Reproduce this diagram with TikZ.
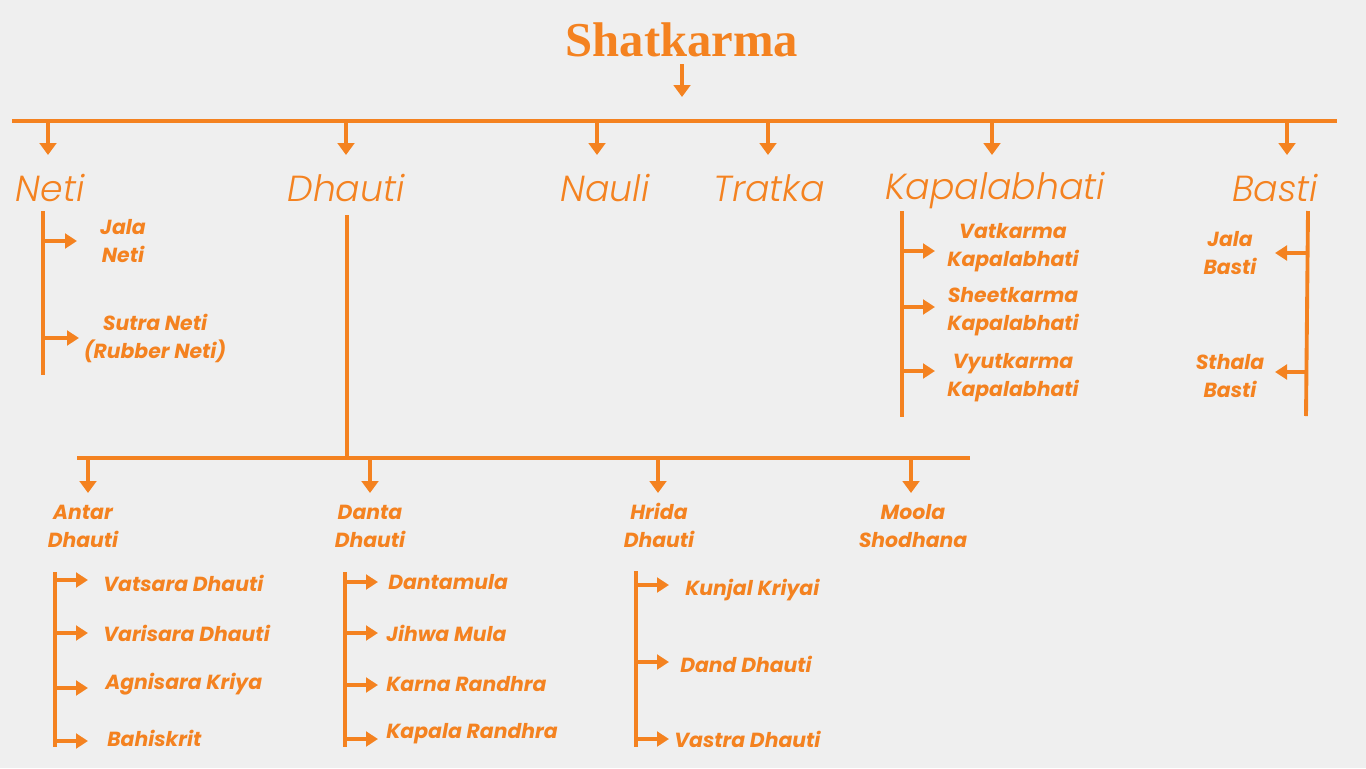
\documentclass[tikz,border=0pt]{standalone}
\usepackage{fontspec}
\setmainfont{Poppins}
\newfontfamily\titlefont{Liberation Serif}
\newfontfamily\lightfont{Poppins Light Italic}
\usetikzlibrary{arrows.meta}
\definecolor{org}{RGB}{244,130,32}
\definecolor{paper}{RGB}{239,239,239}
\begin{document}
\begin{tikzpicture}[x=0.75pt,y=-0.75pt,
  ln/.style={draw=org,line width=2.9pt},
  bus/.style={draw=org,line width=3.1pt},
  arr/.style={draw=org,line width=2.9pt,-{Triangle[length=9pt,width=12.5pt]}},
  sarr/.style={draw=org,line width=2.9pt,-{Triangle[length=9pt,width=11pt]}},
  ttl/.style={text=org,font=\titlefont\bfseries\fontsize{36.5}{40}\selectfont,inner sep=0pt},
  lone/.style={text=org,font=\lightfont\fontsize{27.2}{34}\selectfont,inner sep=0pt},
  ltwo/.style={text=org,font=\bfseries\itshape\fontsize{15.3}{21}\selectfont,inner sep=0pt,align=center},
  lsub/.style={text=org,font=\bfseries\itshape\fontsize{15.3}{21}\selectfont,inner sep=0pt,anchor=west},
]
\fill[paper] (0,0) rectangle (1366,768);
\useasboundingbox (0,0) rectangle (1366,768);

% root
\node[ttl] (root) at (682,40) {Shatkarma};
\coordinate (rb) at (682,121);
\coordinate (busL) at (12,121);
\coordinate (busR) at (1337,121);
\draw[bus] (busL) -- (busR);
\draw[arr,shorten <=18pt,shorten >=18pt] (root.center) -- (rb);

% level 1
\node[lone] (neti) at (50,188) {Neti};
\node[lone] (dhauti) at (346,188) {Dhauti};
\node[lone] (nauli) at (605,188) {Nauli};
\node[lone] (tratka) at (769,188) {Tratka};
\node[lone] (kapal) at (995,191) {Kapalabhati};
\node[lone] (basti) at (1275,188) {Basti};

\coordinate (b1) at (48,121);
\coordinate (b2) at (346,121);
\coordinate (b3) at (597,121);
\coordinate (b4) at (768,121);
\coordinate (b5) at (992,121);
\coordinate (b6) at (1287,121);
\draw[arr,shorten >=24.75pt] (b1) -- (b1 |- neti.center);
\draw[arr,shorten >=24.75pt] (b2) -- (b2 |- dhauti.center);
\draw[arr,shorten >=24.75pt] (b3) -- (b3 |- nauli.center);
\draw[arr,shorten >=24.75pt] (b4) -- (b4 |- tratka.center);
\draw[arr,shorten >=27pt] (b5) -- (b5 |- kapal.center);
\draw[arr,shorten >=24.75pt] (b6) -- (b6 |- basti.center);

% Neti subtree
\coordinate (nt) at (43,211);
\coordinate (nb) at (43,375);
\draw[ln] (nt) -- (nb);
\node[ltwo] (jalaneti) at (123,241) {Jala\\ Neti};
\node[ltwo] (sutra) at (155,338) {Sutra Neti\\(Rubber Neti)};
\coordinate (n1) at (43,241);
\coordinate (n2) at (43,338);
\draw[sarr,shorten >=34.5pt] (n1) -- (n1 -| jalaneti.center);
\draw[sarr,shorten >=57pt] (n2) -- (n2 -| sutra.center);

% Kapalabhati subtree
\coordinate (kt) at (902,211);
\coordinate (kb) at (902,417);
\draw[ln] (kt) -- (kb);
\node[ltwo] (vat) at (1013,248) {Vatkarma\\Kapalabhati};
\node[ltwo] (sheet) at (1013,312) {Sheetkarma\\Kapalabhati};
\node[ltwo] (vyut) at (1013,378) {Vyutkarma\\Kapalabhati};
\coordinate (k1) at (902,251);
\coordinate (k2) at (902,307);
\coordinate (k3) at (902,371);
\draw[sarr,shorten >=58.5pt] (k1) -- (k1 -| vat.center);
\draw[sarr,shorten >=58.5pt] (k2) -- (k2 -| sheet.center);
\draw[sarr,shorten >=58.5pt] (k3) -- (k3 -| vyut.center);

% Basti subtree
\coordinate (st) at (1308,211);
\coordinate (sb) at (1306,416);
\draw[ln] (st) -- (sb);
\node[ltwo] (jalab) at (1230,253) {Jala\\Basti};
\node[ltwo] (sthala) at (1230,376) {Sthala\\Basti};
\coordinate (s1) at (1308,253);
\coordinate (s2) at (1307,372);
\draw[sarr,shorten >=33.75pt] (s1) -- (s1 -| jalab.center);
\draw[sarr,shorten >=33.75pt] (s2) -- (s2 -| sthala.center);

% Dhauti subtree
\coordinate (dt) at (347,215);
\coordinate (dj) at (347,458);
\draw[ln] (dt) -- (dj);
\coordinate (d2L) at (77,458);
\coordinate (d2R) at (970,458);
\draw[bus] (d2L) -- (d2R);
\node[ltwo] (antar) at (83,526) {Antar\\Dhauti};
\node[ltwo] (danta) at (370,526) {Danta\\Dhauti};
\node[ltwo] (hrida) at (659,525) {Hrida\\Dhauti};
\node[ltwo] (moola) at (913,526) {Moola\\Shodhana};
\coordinate (c1) at (88,458);
\coordinate (c2) at (370,458);
\coordinate (c3) at (658,458);
\coordinate (c4) at (911,458);
\draw[arr,shorten >=24.75pt] (c1) -- (c1 |- antar.center);
\draw[arr,shorten >=24.75pt] (c2) -- (c2 |- danta.center);
\draw[arr,shorten >=24pt] (c3) -- (c3 |- hrida.center);
\draw[arr,shorten >=24.75pt] (c4) -- (c4 |- moola.center);

% Antar subtree
\coordinate (at) at (55,572);
\coordinate (ab) at (55,747);
\draw[ln] (at) -- (ab);
\node[lsub] (vatsara) at (103,583) {Vatsara Dhauti};
\node[lsub] (varisara) at (103,633) {Varisara Dhauti};
\node[lsub] (agni) at (105,684) {Agnisara Kriya};
\node[lsub] (bahis) at (107,738) {Bahiskrit};
\coordinate (a1) at (55,580);
\coordinate (a2) at (55,633);
\coordinate (a3) at (55,688);
\coordinate (a4) at (55,741);
\draw[sarr,shorten >=11.25pt] (a1) -- (a1 -| vatsara.west);
\draw[sarr,shorten >=11.25pt] (a2) -- (a2 -| varisara.west);
\draw[sarr,shorten >=12.75pt] (a3) -- (a3 -| agni.west);
\draw[sarr,shorten >=14.25pt] (a4) -- (a4 -| bahis.west);

% Danta subtree
\coordinate (tt) at (345,572);
\coordinate (tb) at (345,747);
\draw[ln] (tt) -- (tb);
\node[lsub] (dantamula) at (388,582) {Dantamula};
\node[lsub] (jihwa) at (386,633) {Jihwa Mula};
\node[lsub] (karna) at (386,684) {Karna Randhra};
\node[lsub] (kapala) at (386,734) {Kapala Randhra};
\coordinate (t1) at (345,582);
\coordinate (t2) at (345,633);
\coordinate (t3) at (345,685);
\coordinate (t4) at (345,739);
\draw[sarr,shorten >=7.5pt] (t1) -- (t1 -| dantamula.west);
\draw[sarr,shorten >=6pt] (t2) -- (t2 -| jihwa.west);
\draw[sarr,shorten >=6pt] (t3) -- (t3 -| karna.west);
\draw[sarr,shorten >=6pt] (t4) -- (t4 -| kapala.west);

% Hrida subtree
\coordinate (ht) at (636,571);
\coordinate (hb) at (636,747);
\draw[ln] (ht) -- (hb);
\node[lsub] (kunjal) at (685,590) {Kunjal Kriyai};
\node[lsub] (dand) at (680,664) {Dand Dhauti};
\node[lsub] (vastra) at (674,739) {Vastra Dhauti};
\coordinate (h1) at (636,585);
\coordinate (h2) at (636,662);
\coordinate (h3) at (636,739);
\draw[sarr,shorten >=12pt] (h1) -- (h1 -| kunjal.west);
\draw[sarr,shorten >=8.25pt] (h2) -- (h2 -| dand.west);
\draw[sarr,shorten >=3.75pt] (h3) -- (h3 -| vastra.west);
\end{tikzpicture}
\end{document}
